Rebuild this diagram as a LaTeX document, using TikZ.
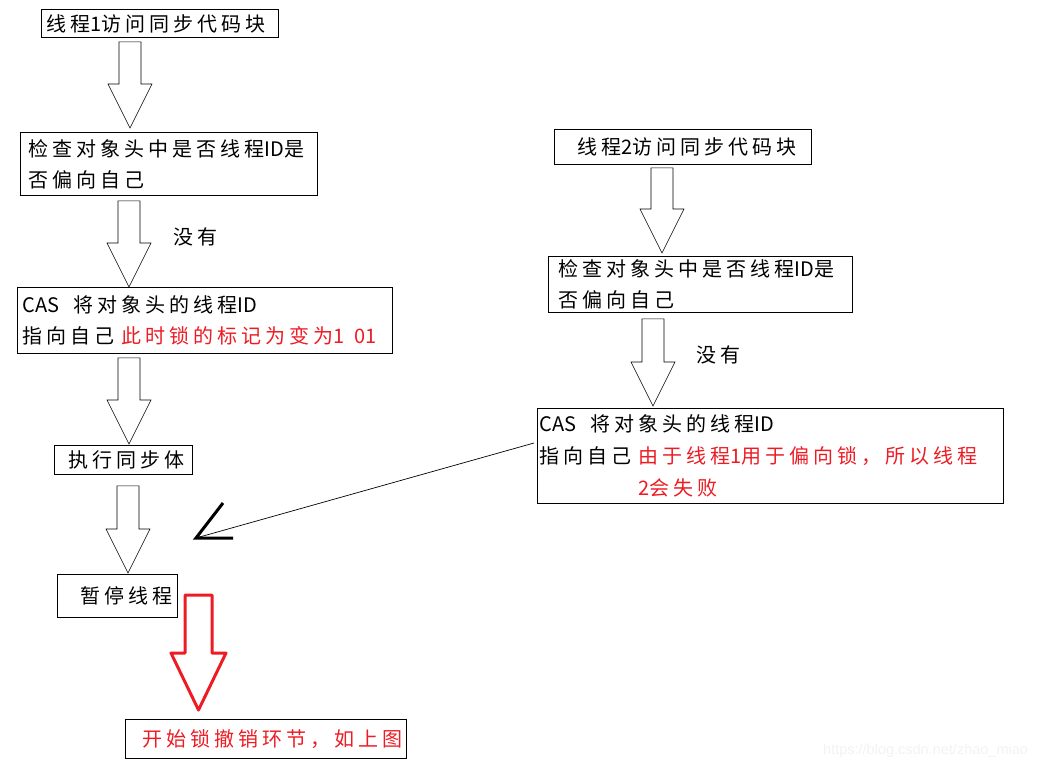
\documentclass[tikz,border=0pt]{standalone}
\usepackage{fontspec}
\setmainfont{Noto Sans CJK SC}[LetterSpace=20]
\newfontfamily\latf{Noto Sans CJK SC}
\newcommand{\lat}[1]{{\latf #1}}
\newfontfamily\wm{Liberation Sans}
\usetikzlibrary{calc}
\definecolor{txtred}{RGB}{237,28,36}
\tikzset{
  blk/.style n args={3}{to path={let \p1=(\tikztostart), \p2=(\tikztotarget) in
    (\x1-#1,\y1) -- (\x1+#1,\y1) -- (\x1+#1,\y2+#3) -- (\x1+#2,\y2+#3) -- (\x2,\y2)
    -- (\x1-#2,\y2+#3) -- (\x1-#1,\y2+#3) -- cycle}},
  blockarrow/.style={draw=black, line width=0.6pt, line join=miter, blk={11pt}{22pt}{44pt}},
  redarrow/.style={draw=txtred, line width=3pt, line join=round, blk={13.5pt}{27.5pt}{57pt}},
  box/.style={draw, line width=0.8pt, inner ysep=0pt, anchor=north west, align=left,
    font=\fontsize{20}{31}\selectfont},
  lbl/.style={font=\fontsize{20}{24}\selectfont, inner sep=0pt},
}
\begin{document}
\begin{tikzpicture}[x=1pt,y=-1pt]
\useasboundingbox (0,0) rectangle (1055,769);
% left column
\node[box, inner xsep=5pt, text width=227pt, minimum height=28pt] (A) at (41,9) {线程\lat{1}访问同步代码块};
\node[box, inner xsep=8pt, text width=281pt, minimum height=63pt] (B) at (20,132) {检查对象头中是否线程\lat{ID}是\\否偏向自己};
\node[box, inner xsep=5pt, text width=365pt, minimum height=66pt] (C) at (17,287) {\lat{CAS}\hspace{14pt}将对象头的线程\lat{ID}\\指向自己 \textcolor{txtred}{此时锁的标记为变为\lat{1\hspace{10pt}01}}};
\node[box, inner xsep=14pt, text width=110pt, minimum height=29pt] (D) at (54,445) {执行同步体};
\node[box, inner xsep=23pt, text width=74pt, minimum height=43pt] (E) at (57,574) {暂停线程};
\node[box, inner xsep=17pt, text width=247pt, minimum height=39pt, text=txtred] (F) at (125,719) {开始锁撤销环节，如上图};
% right column
\node[box, inner xsep=23pt, text width=211pt, minimum height=35pt] (G) at (554,129) {线程\lat{2}访问同步代码块};
\node[box, inner xsep=10pt, text width=284pt, minimum height=56pt] (H) at (548,256) {检查对象头中是否线程\lat{ID}是\\否偏向自己};
\node[box, inner xsep=2pt, text width=462pt, minimum height=95pt, font=\fontsize{20}{32}\selectfont] (I) at (537,408) {\lat{CAS}\hspace{14pt}将对象头的线程\lat{ID}\\指向自己 \textcolor{txtred}{由于线程\lat{1}用于偏向锁，所以线程}\\\phantom{指向自己 }\textcolor{txtred}{\lat{2}会失败}};
% labels
\node[lbl] (n1) at (195,237) {没有};
\node[lbl] (n2) at (718,355) {没有};
% arrow axes
\coordinate (X1) at (130,0);
\coordinate (X2) at (129,0);
\coordinate (X3) at (129,0);
\coordinate (X4) at (128,0);
\coordinate (X5) at (662,0);
\coordinate (X6) at (653,0);
\coordinate (XR) at (198.5,0);
% block arrows
\draw[blockarrow] ($(A.south -| X1)+(0,4)$) to ($(B.north -| X1)+(0,-4)$);
\draw[blockarrow] ($(B.south -| X2)+(0,5)$) to ($(C.north -| X2)+(0,0)$);
\draw[blockarrow] ($(C.south -| X3)+(0,4)$) to ($(D.north -| X3)+(0,-1)$);
\draw[blockarrow] ($(D.south -| X4)+(0,11)$) to ($(E.north -| X4)+(0,-1)$);
\draw[blockarrow] ($(G.south -| X5)+(0,3)$) to ($(H.north -| X5)+(0,-3)$);
\draw[blockarrow] ($(H.south -| X6)+(0,6)$) to ($(I.north -| X6)+(0,-2)$);
\draw[redarrow] ($(E.north -| XR)+(0,21)$) to ($(F.north -| XR)+(0,-9)$);
% connector from thread 2 CAS to pause
\coordinate (Ltip) at (196,538);
\draw[line width=0.7pt] ($(I.north west)+(-3,35)$) -- (Ltip);
\draw[line width=3pt, line cap=butt, line join=miter] ($(Ltip)+(27,-35)$) -- (Ltip) -- ($(Ltip)+(37,0)$);
% watermark
\node[font=\wm\fontsize{14.5}{14.5}\selectfont, text=black!5, anchor=west, inner sep=0pt] (wm) at (823,751) {https://blog.csdn.net/zhao\_miao};
\end{tikzpicture}
\end{document}
